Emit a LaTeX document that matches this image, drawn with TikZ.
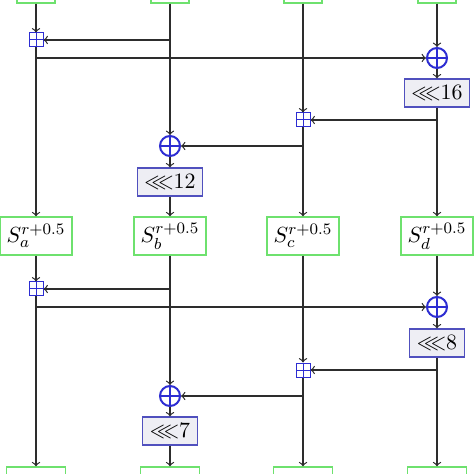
\documentclass[tikz,border=0pt]{standalone}
\usepackage{amsmath}
\usepackage{amssymb}
\usepackage{xcolor}
\usepackage{tikz}

\definecolor{boxgreen}{RGB}{110,225,110}
\definecolor{opblue}{RGB}{45,45,210}
\definecolor{rotblue}{RGB}{80,80,190}
\definecolor{rotfill}{RGB}{238,238,244}
\definecolor{wirecol}{RGB}{45,45,45}

\begin{document}
\begin{tikzpicture}[x=0.5pt,y=-0.5pt,
		every node/.style={inner sep=0pt,font=\fontsize{11}{13}\selectfont},
		state/.style={draw=boxgreen,line width=0.7pt,minimum height=19pt},
		addop/.style={draw=opblue,line width=0.5pt,minimum size=7pt,
			path picture={\draw[opblue,line width=0.5pt] (path picture bounding box.north) -- (path picture bounding box.south)
				(path picture bounding box.west) -- (path picture bounding box.east);}},
		xorop/.style={circle,draw=opblue,line width=1pt,minimum size=10pt,
			path picture={\draw[opblue,line width=1pt] (path picture bounding box.north) -- (path picture bounding box.south)
				(path picture bounding box.west) -- (path picture bounding box.east);}},
		rotbox/.style={draw=rotblue,fill=rotfill,line width=0.6pt,minimum height=14pt,inner xsep=3.5pt},
		arr/.style={draw=wirecol,line width=0.6pt,->}]
	\useasboundingbox (0,0) rectangle (474,474);
	\clip (0,0) rectangle (474,474);
	% input words
	\node[state,minimum width=19pt] (ta) at (36,-16) {};
	\node[state,minimum width=19pt] (tb) at (170,-16) {};
	\node[state,minimum width=19pt] (tc) at (303,-16) {};
	\node[state,minimum width=19pt] (td) at (437,-16) {};
	% first half
	\node[addop] (add1) at (36,40) {};
	\node[xorop] (xor1) at (437,58) {};
	\node[rotbox] (rot1) at (437,93) {${\lll}16$};
	\node[addop] (add2) at (303,120) {};
	\node[xorop] (xor2) at (170,146) {};
	\node[rotbox] (rot2) at (170,182) {${\lll}12$};
	\node[state,minimum width=36pt] (sa) at (36,236) {$S_a^{r+0.5}$};
	\node[state,minimum width=36pt] (sb) at (170,236) {$S_b^{r+0.5}$};
	\node[state,minimum width=36pt] (sc) at (303,236) {$S_c^{r+0.5}$};
	\node[state,minimum width=36pt] (sd) at (437,236) {$S_d^{r+0.5}$};
	\draw[arr] (ta) -- (add1);
	\draw[arr] (tb) -- (xor2);
	\draw[arr] (tb |- add1) -- (add1);
	\draw[arr] (add1) -- (sa);
	\draw[arr] (add1 |- xor1) -- (xor1);
	\draw[arr] (tc) -- (add2);
	\draw[arr] (td) -- (xor1);
	\draw[arr] (xor1) -- (rot1);
	\draw[arr] (rot1) -- (sd);
	\draw[arr] (rot1 |- add2) -- (add2);
	\draw[arr] (add2) -- (sc);
	\draw[arr] (add2 |- xor2) -- (xor2);
	\draw[arr] (xor2) -- (rot2);
	\draw[arr] (rot2) -- (sb);
	% second half
	\node[addop] (add3) at (36,289) {};
	\node[xorop] (xor3) at (437,307) {};
	\node[rotbox] (rot3) at (437,343) {${\lll}8$};
	\node[addop] (add4) at (303,370) {};
	\node[xorop] (xor4) at (170,396) {};
	\node[rotbox] (rot4) at (170,431) {${\lll}7$};
	\node[state,minimum width=29.5pt] (oa) at (36,486) {};
	\node[state,minimum width=29.5pt] (ob) at (170,486) {};
	\node[state,minimum width=29.5pt] (oc) at (303,486) {};
	\node[state,minimum width=29.5pt] (od) at (437,486) {};
	\draw[arr] (sa) -- (add3);
	\draw[arr] (sb) -- (xor4);
	\draw[arr] (sb |- add3) -- (add3);
	\draw[arr] (add3) -- (oa);
	\draw[arr] (add3 |- xor3) -- (xor3);
	\draw[arr] (sc) -- (add4);
	\draw[arr] (sd) -- (xor3);
	\draw[arr] (xor3) -- (rot3);
	\draw[arr] (rot3) -- (od);
	\draw[arr] (rot3 |- add4) -- (add4);
	\draw[arr] (add4) -- (oc);
	\draw[arr] (add4 |- xor4) -- (xor4);
	\draw[arr] (xor4) -- (rot4);
	\draw[arr] (rot4) -- (ob);
\end{tikzpicture}
\end{document}
